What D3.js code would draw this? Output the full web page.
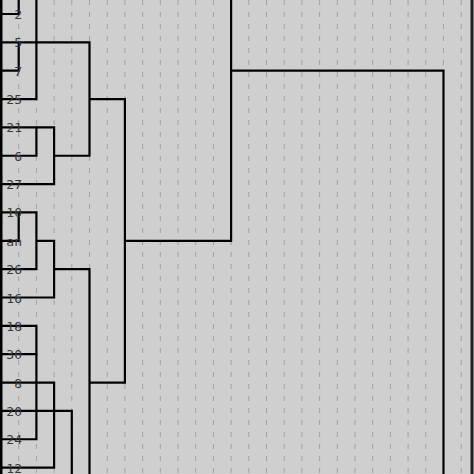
<!DOCTYPE html>
<html>
<head>
<style>
  body { margin: 0; padding: 0; background: #cfcfcf; }
  svg { display: block; }
</style>
</head>
<body>
<div id="chart"></div>
<script src="https://cdn.jsdelivr.net/npm/d3@7"></script>
<script>
// leaf labels, top to bottom (one leaf above the view is unlabeled)
var leaves = ['2', '5', '7', '25', '21', '6', '27', '10', 'an', '26', '16', '18', '30', '8', '20', '24', '12'];

// merges as elbows: top leaf row, bottom leaf row, height of top child, merge height, height of bottom child
var uTop = [-1, -1.5, 1, 4, 4, 1, 3, -3, 2, 7, 7, 8, 9, 11, 12, 13, 14];
var uBot = [0, 3, 2, 5, 6, 5, 13, 8, 19, 8, 9, 10, 19, 12, 15, 16, 19];
var hTop = [0, 0, 0, 0, 2, 1, 5, 0, 13, 0, 1, 2, 3, 0, 2, 0, 0];
var hMid = [1, 2, 1, 2, 3, 5, 7, 13, 25, 1, 2, 3, 5, 2, 2, 3, 4];
var hBot = [0, 0, 0, 0, 0, 3, 5, 7, 20, 0, 0, 0, 9, 0, 0, 0, 9];

var width = 474, height = 474;

var svg = d3.select('#chart').append('svg')
  .attr('width', width)
  .attr('height', height);

var x = d3.scaleLinear().domain([0, 25]).range([1, 443.5]);
var y = d3.scaleLinear().domain([0, 16]).range([14, 467.6]);

svg.append('rect')
  .attr('width', width).attr('height', height)
  .style('fill', '#cfcfcf');

// dashed vertical grid
svg.selectAll('.grid')
  .data(d3.range(1, 27))
  .enter().append('line')
  .attr('x1', function(d) { return x(d); })
  .attr('x2', function(d) { return x(d); })
  .attr('y1', 0).attr('y2', height)
  .style('stroke', '#a0a0a0')
  .style('stroke-width', 1)
  .style('stroke-dasharray', '5,7');

var path = function(i) {
  return 'M' + x(hTop[i]) + ',' + y(uTop[i]) +
         'H' + x(hMid[i]) +
         'V' + y(uBot[i]) +
         'H' + x(hBot[i]);
};

svg.selectAll('.link')
  .data(uTop)
  .enter().append('path')
  .attr('d', function(d, i) { return path(i); })
  .style('fill', 'none')
  .style('stroke', '#000')
  .style('stroke-width', 2.2);

svg.selectAll('.label')
  .data(leaves)
  .enter().append('text')
  .attr('x', 22)
  .attr('y', function(d, i) { return y(i) + 5; })
  .attr('text-anchor', 'end')
  .style('font-family', 'DejaVu Sans Mono')
  .style('font-size', '13px')
  .style('fill', '#3a3a3a')
  .text(function(d) { return d; });

// left axis and right border
svg.append('line')
  .attr('x1', 1).attr('x2', 1).attr('y1', 0).attr('y2', height)
  .style('stroke', '#000').style('stroke-width', 3);
svg.append('line')
  .attr('x1', 472).attr('x2', 472).attr('y1', 0).attr('y2', height)
  .style('stroke', '#222').style('stroke-width', 3);
</script>
</body>
</html>
